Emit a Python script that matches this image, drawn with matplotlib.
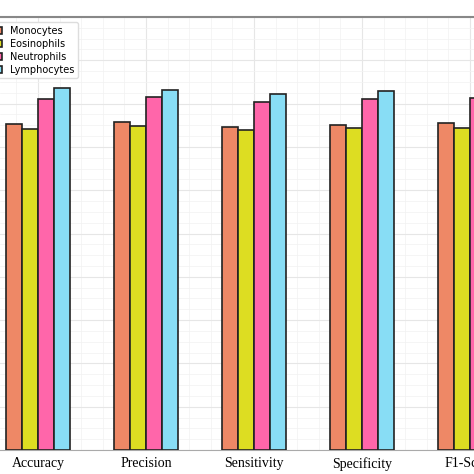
import numpy as np
import matplotlib.pyplot as plt
from matplotlib.ticker import MultipleLocator

metrics = ["Accuracy", "Precision", "Sensitivity", "Specificity", "F1-Score"]
monocytes = [0.753, 0.758, 0.746, 0.751, 0.755]
eosinophils = [0.741, 0.749, 0.739, 0.744, 0.744]
neutrophils = [0.811, 0.815, 0.804, 0.811, 0.813]
lymphocytes = [0.836, 0.831, 0.822, 0.829, 0.830]

series = [("Monocytes", monocytes, "#EE8866"),
          ("Eosinophils", eosinophils, "#DDDD22"),
          ("Neutrophils", neutrophils, "#FF66AA"),
          ("Lymphocytes", lymphocytes, "#88DDF5")]

fig = plt.figure(figsize=(4.74, 4.74), dpi=100)
ax = fig.add_axes([0.0, 0.0506, 1.0, 0.9135])
x = np.arange(len(metrics))
w = 0.148
for i, (name, vals, col) in enumerate(series):
    ax.bar(x + (i - 1.5) * w, vals, w, color=col, edgecolor="#222222",
           linewidth=1.2, label=name, zorder=3)

ax.set_xlim(-0.352, 4.037)
ax.set_ylim(0, 1.0)
ax.set_xticks(x)
ax.set_xticklabels(metrics, family="Liberation Serif", fontsize=10)
ax.xaxis.set_minor_locator(MultipleLocator(0.2))
ax.yaxis.set_major_locator(MultipleLocator(0.1))
ax.yaxis.set_minor_locator(MultipleLocator(0.025))
ax.set_yticklabels([])
ax.tick_params(axis="y", length=0, which="both")
ax.tick_params(axis="x", length=0, which="both", pad=5)
ax.grid(True, which="major", color="#e6e6e6", lw=0.8, zorder=0)
ax.grid(True, which="minor", color="#f2f2f2", lw=0.5, zorder=0)
for s in ["left", "right"]:
    ax.spines[s].set_visible(False)
ax.spines["top"].set_color("#888888")
ax.spines["top"].set_linewidth(1.5)
ax.spines["bottom"].set_color("#aaaaaa")
ax.legend(loc="upper left", bbox_to_anchor=(-0.035, 1.0), fontsize=7,
          framealpha=1, edgecolor="#dddddd", handlelength=1.0,
          labelspacing=0.3, borderpad=0.4)
fig.savefig("out.png", dpi=100)
